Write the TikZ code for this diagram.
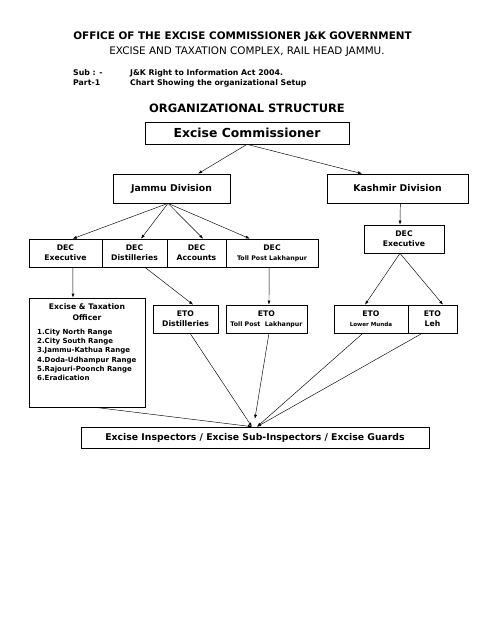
\documentclass[tikz,border=0pt]{standalone}
\usepackage{fontspec}
\setmainfont{DejaVu Sans}
\usetikzlibrary{calc,arrows.meta}
\begin{document}
\begin{tikzpicture}[x=1pt,y=-1pt,
  box/.style={draw, line width=0.7pt, inner sep=0pt, align=center,
    font=\bfseries\fontsize{7.7}{10}\selectfont},
  arr/.style={-{Latex[length=4pt,width=3pt]}, line width=0.45pt},
  txt/.style={inner sep=0pt, anchor=base}]
\useasboundingbox (0,0) rectangle (495,640);
% header
\node[txt, font=\bfseries\fontsize{10.4}{12}\selectfont] (h1) at (242.5,39.8) {OFFICE OF THE EXCISE COMMISSIONER J\&K GOVERNMENT};
\node[txt, font=\fontsize{10.4}{12}\selectfont] (h2) at (247,54.5) {EXCISE AND TAXATION COMPLEX, RAIL HEAD JAMMU.};
\node[txt, anchor=base west, font=\bfseries\fontsize{7.8}{10}\selectfont] (s1) at (73,75.5) {Sub : -};
\node[txt, anchor=base west, font=\bfseries\fontsize{7.8}{10}\selectfont] (s2) at (130,75.5) {J\&K Right to Information Act 2004.};
\node[txt, anchor=base west, font=\bfseries\fontsize{7.8}{10}\selectfont] (p1) at (73,85.5) {Part-1};
\node[txt, anchor=base west, font=\bfseries\fontsize{7.8}{10}\selectfont] (p2) at (130,85.5) {Chart Showing the organizational Setup};
\node[txt, font=\bfseries\fontsize{11.5}{14}\selectfont] (org) at (247,112.5) {ORGANIZATIONAL STRUCTURE};
% boxes
\node[box, minimum width=204pt, minimum height=22pt, font=\bfseries\fontsize{12.4}{14}\selectfont] (ec) at (247,133) {Excise Commissioner};
\node[box, minimum width=117pt, minimum height=29pt, font=\bfseries\fontsize{9.3}{12}\selectfont] (jd) at (171.5,188.5) {Jammu Division};
\node[box, minimum width=141pt, minimum height=29pt, font=\bfseries\fontsize{9.3}{12}\selectfont] (kd) at (397.5,188.5) {Kashmir Division};
\node[box, minimum width=73pt, minimum height=28pt] (d1) at (65.5,253) {DEC\\Executive};
\node[box, minimum width=65pt, minimum height=28pt] (d2) at (134.5,253) {DEC\\Distilleries};
\node[box, minimum width=59pt, minimum height=28pt] (d3) at (196.5,253) {DEC\\Accounts};
\node[box, minimum width=92pt, minimum height=28pt] (d4) at (272,253) {DEC\\{\fontsize{6.3}{10}\selectfont Toll Post Lakhanpur}};
\node[box, minimum width=80pt, minimum height=28pt] (kdec) at (404,239) {DEC\\Executive};
\node[box, minimum width=116pt, minimum height=109pt] (eto) at (87,352.5) {};
\node[inner sep=0pt, align=center, font=\bfseries\fontsize{7.7}{11}\selectfont] (etot) at (87,312.5) {Excise \& Taxation\\Officer};
\node[inner sep=0pt, anchor=north west, align=left, font=\bfseries\fontsize{7}{9.2}\selectfont] (etol) at (37,329) {1.City North Range\\2.City South Range\\3.Jammu-Kathua Range\\4.Doda-Udhampur Range\\5.Rajouri-Poonch Range\\6.Eradication};
\node[box, minimum width=65pt, minimum height=28pt] (e2) at (185.5,319) {ETO\\Distilleries};
\node[box, minimum width=81pt, minimum height=28pt] (e3) at (266.5,319) {ETO\\{\fontsize{6.3}{10}\selectfont Toll Post\ \ Lakhanpur}};
\node[box, minimum width=74pt, minimum height=28pt] (e4) at (371,319) {ETO\\{\fontsize{5.6}{10}\selectfont Lower Munda}};
\node[box, minimum width=49pt, minimum height=28pt] (e5) at (432.5,319) {ETO\\Leh};
\node[box, minimum width=348pt, minimum height=21pt, font=\bfseries\fontsize{9.3}{12}\selectfont] (bot) at (255,437.5) {Excise Inspectors / Excise Sub-Inspectors / Excise Guards};
% connectors
\draw[arr] (ec.south) -- ($(jd.north west)!.726!(jd.north east)$);
\draw[arr] (ec.south) -- ($(kd.north west)!.25!(kd.north east)$);
\coordinate (jb) at ($(jd.south west)!.47!(jd.south east)$);
\draw[arr] (jb) -- ($(d1.north west)!.6!(d1.north east)$);
\draw[arr] (jb) -- ($(d2.north west)!.6!(d2.north east)$);
\draw[arr] (jb) -- ($(d3.north west)!.61!(d3.north east)$);
\draw[arr] (jb) -- ($(d4.north west)!.26!(d4.north east)$);
\draw[arr] ($(kd.south west)!.52!(kd.south east)$) -- ($(kdec.north west)!.45!(kdec.north east)$);
\coordinate (kb) at ($(kdec.south west)!.45!(kdec.south east)$);
\draw[arr] (kb) -- ($(e4.north west)!.42!(e4.north east)$);
\draw[arr] (kb) -- ($(e5.north west)!.71!(e5.north east)$);
\draw[arr] ($(d1.south west)!.6!(d1.south east)$) -- ($(eto.north west)!.38!(eto.north east)$);
\draw[arr] ($(d2.south west)!.66!(d2.south east)$) -- ($(e2.north west)!.615!(e2.north east)$);
\draw[arr] ($(d4.south west)!.47!(d4.south east)$) -- ($(e3.north west)!.53!(e3.north east)$);
\coordinate (bl) at ($(bot.north west)!.491!(bot.north east)$);
\coordinate (br) at ($(bot.north west)!.506!(bot.north east)$);
\draw[arr] ($(eto.south west)!.57!(eto.south east)$) -- (bl);
\draw[arr] ($(e2.south west)!.57!(e2.south east)$) -- (bl);
\draw[arr, shorten >=8pt] ($(e3.south west)!.53!(e3.south east)$) -- ($(bot.north west)!.496!(bot.north east)$);
\draw[arr] ($(e4.south west)!.39!(e4.south east)$) -- (br);
\draw[arr] ($(e5.south west)!.29!(e5.south east)$) -- (br);
\end{tikzpicture}
\end{document}
